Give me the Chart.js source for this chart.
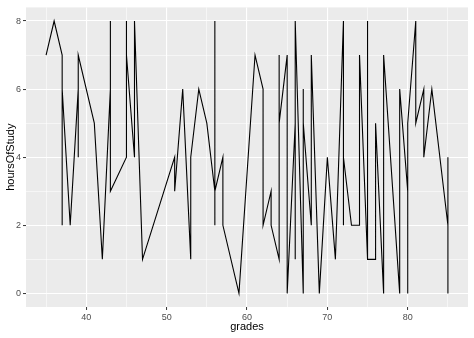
<!DOCTYPE html>
<html>
<head>
<meta charset="utf-8">
<script src="https://cdn.jsdelivr.net/npm/chart.js@4"></script>
<style>
  html, body { margin: 0; padding: 0; background: #ffffff; }
  #wrap { width: 474px; height: 338px; }
</style>
</head>
<body>
<div id="wrap"><canvas id="myChart" width="474" height="338"></canvas></div>
<script>
// grades (x) and hoursOfStudy (y), in the order geom_line draws them (sorted by grade)
var grades = [35, 36, 37, 37, 37, 38, 39, 39, 39, 41, 42, 43, 43, 43, 45, 45, 45, 46, 46, 47,
              51, 51, 52, 53, 53, 54, 55, 56, 56, 56, 56, 57, 57, 59, 61, 62, 62, 63, 63,
              64, 64, 64, 65, 65, 66, 66, 66, 67, 67, 67, 68, 68, 69, 70, 71, 72, 72, 72,
              73, 74, 74, 75, 75, 75, 76, 76, 77, 77, 79, 79, 80, 80, 80, 81, 81, 82, 82,
              83, 85, 85, 85];
var hoursOfStudy = [7, 8, 7, 2, 6, 2, 6, 4, 7, 5, 1, 6, 8, 3, 4, 8, 7, 4, 8, 1,
                    4, 3, 6, 1, 4, 6, 5, 3, 8, 2, 3, 4, 2, 0, 7, 6, 2, 3, 2,
                    1, 7, 5, 7, 0, 5, 1, 8, 0, 6, 5, 2, 7, 0, 4, 1, 8, 2, 4,
                    2, 2, 7, 1, 8, 1, 1, 5, 0, 7, 0, 6, 3, 0, 5, 8, 5, 6, 4,
                    6, 2, 0, 4];

// tick values
var xMajor = [40, 50, 60, 70, 80];
var xMinor = [35, 45, 55, 65, 75, 85];
var yMajor = [0, 2, 4, 6, 8];
var yMinor = [1, 3, 5, 7];

var points = grades.map(function (g, i) { return { x: g, y: hoursOfStudy[i] }; });

function setTicks(major, minor) {
    return function (scale) {
        scale.ticks = major.concat(minor).sort(function (a, b) { return a - b; })
            .map(function (v) { return { value: v }; });
    };
}
function isMajor(list) {
    return function (ctx) { return ctx.tick && list.indexOf(ctx.tick.value) !== -1; };
}
var xIsMajor = isMajor(xMajor);
var yIsMajor = isMajor(yMajor);

// grey panel behind the grid
var panelBg = {
    id: 'panelBg',
    beforeDraw: function (chart) {
        var a = chart.chartArea;
        var c = chart.ctx;
        c.save();
        c.fillStyle = '#EBEBEB';
        c.fillRect(a.left, a.top, a.right - a.left, a.bottom - a.top);
        c.restore();
    }
};

Chart.defaults.font.family = '"Liberation Sans", Arial, sans-serif';

var ctx = document.getElementById('myChart').getContext('2d');
new Chart(ctx, {
    type: 'line',
    data: {
        datasets: [{
            data: points,
            borderColor: '#000000',
            borderWidth: 1.1,
            pointRadius: 0,
            tension: 0,
            fill: false
        }]
    },
    options: {
        responsive: false,
        animation: false,
        layout: { padding: { top: 5, right: 6, left: 0, bottom: 0 } },
        plugins: {
            legend: { display: false },
            tooltip: { enabled: false }
        },
        scales: {
            x: {
                type: 'linear',
                min: 32.5,
                max: 87.5,
                afterBuildTicks: setTicks(xMajor, xMinor),
                afterFit: function (scale) { scale.height = 31; },
                border: { display: false },
                grid: {
                    color: '#FFFFFF',
                    lineWidth: function (c) { return xIsMajor(c) ? 1.1 : 0.55; },
                    tickColor: function (c) { return xIsMajor(c) ? '#333333' : 'rgba(0,0,0,0)'; },
                    tickLength: 3,
                    tickWidth: 1
                },
                ticks: {
                    autoSkip: false,
                    maxRotation: 0,
                    padding: 2,
                    color: '#4D4D4D',
                    font: { size: 9 },
                    callback: function (v) { return xMajor.indexOf(v) !== -1 ? String(v) : ''; }
                },
                title: {
                    display: true,
                    text: 'grades',
                    color: '#000000',
                    font: { size: 11 },
                    padding: { top: 2, bottom: 4 }
                }
            },
            y: {
                type: 'linear',
                min: -0.4,
                max: 8.4,
                afterBuildTicks: setTicks(yMajor, yMinor),
                afterFit: function (scale) { scale.width = 26; },
                border: { display: false },
                grid: {
                    color: '#FFFFFF',
                    lineWidth: function (c) { return yIsMajor(c) ? 1.1 : 0.55; },
                    tickColor: function (c) { return yIsMajor(c) ? '#333333' : 'rgba(0,0,0,0)'; },
                    tickLength: 3,
                    tickWidth: 1
                },
                ticks: {
                    autoSkip: false,
                    padding: 2,
                    color: '#4D4D4D',
                    font: { size: 9 },
                    callback: function (v) { return yMajor.indexOf(v) !== -1 ? String(v) : ''; }
                },
                title: {
                    display: true,
                    text: 'hoursOfStudy',
                    color: '#000000',
                    font: { size: 11 },
                    padding: { top: 4, bottom: 2 }
                }
            }
        }
    },
    plugins: [panelBg]
});
</script>
</body>
</html>
